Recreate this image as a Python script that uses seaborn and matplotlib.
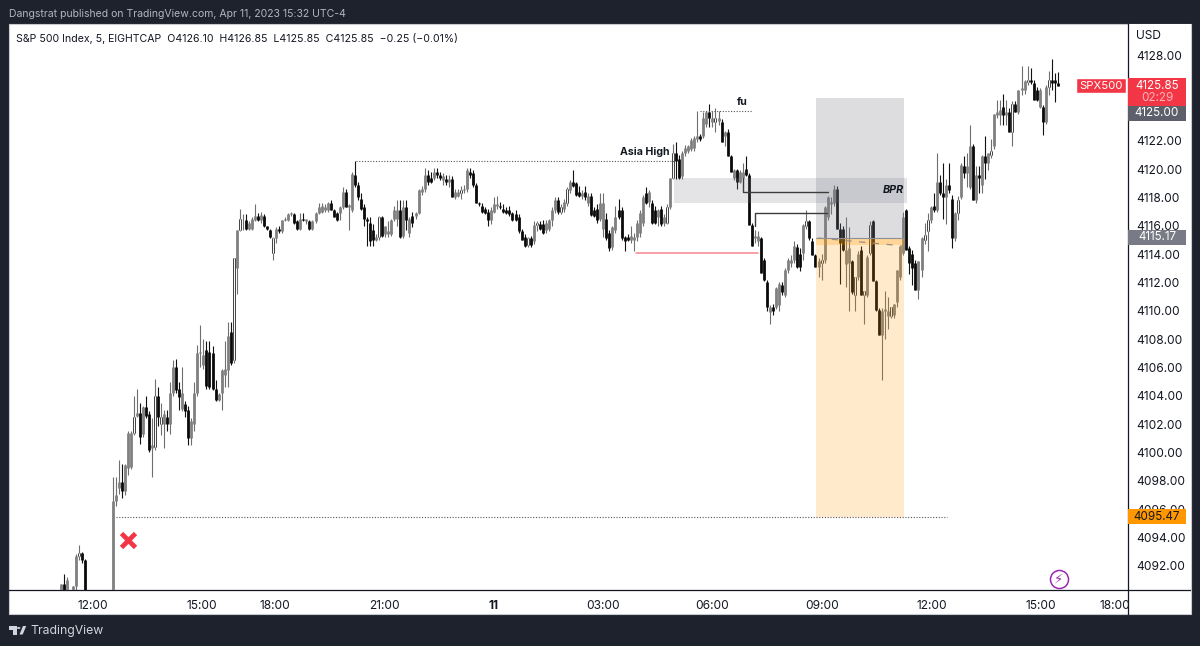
"""S&P 500 5-minute candles with trade annotations, TradingView look."""
import matplotlib.pyplot as plt
import pandas as pd
import seaborn as sns
from matplotlib.patches import Circle, Polygon, Rectangle

opens = [
    4089.8, 4090.7, 4090.2, 4089.2, 4090.0, 4090.6, 4092.7, 4092.9, 4092.4, 4089.5,
    4088.9, 4088.5, 4088.8, 4088.4, 4088.1, 4088.5, 4088.9, 4088.6, 4096.6, 4097.5,
    4097.9, 4097.3, 4098.9, 4099.0, 4101.4, 4102.6, 4102.8, 4101.3, 4103.2, 4102.7,
    4100.3, 4100.4, 4104.0, 4102.0, 4102.0, 4102.5, 4102.0, 4104.2, 4106.0, 4104.5,
    4103.1, 4103.4, 4103.0, 4101.0, 4102.0, 4104.2, 4107.0, 4106.2, 4107.2, 4107.1,
    4107.0, 4104.5, 4103.7, 4104.2, 4105.5, 4105.8, 4108.5, 4106.5, 4113.0, 4115.7,
    4116.4, 4116.4, 4115.75, 4115.8, 4116.4, 4116.7, 4116.4, 4116.7, 4115.95, 4115.7,
    4114.05, 4115.1, 4115.8, 4115.6, 4116.4, 4116.4, 4116.8, 4116.8, 4116.3, 4115.8,
    4116.5, 4116.3, 4116.3, 4115.8, 4116.3, 4116.9, 4117.0, 4117.1, 4117.1, 4117.6,
    4117.1, 4116.9, 4116.9, 4117.35, 4118.4, 4117.3, 4117.1, 4119.6, 4118.9, 4117.9,
    4117.3, 4116.5, 4116.2, 4115.7, 4115.0, 4115.2, 4116.6, 4115.4, 4115.4, 4115.4,
    4116.5, 4116.5, 4117.1, 4115.3, 4117.35, 4115.5, 4116.7, 4116.7, 4116.9, 4118.4,
    4118.6, 4119.6, 4119.4, 4119.4, 4119.8, 4119.6, 4119.2, 4119.3, 4119.1, 4119.3,
    4118.0, 4118.1, 4118.3, 4118.5, 4118.6, 4119.8, 4119.7, 4118.9, 4117.6, 4117.4,
    4117.2, 4117.0, 4116.4, 4117.0, 4117.4, 4117.4, 4117.2, 4117.1, 4117.1, 4116.9,
    4116.8, 4116.6, 4115.6, 4115.2, 4114.65, 4115.1, 4114.9, 4116.05, 4116.1, 4116.1,
    4115.7, 4115.75, 4116.4, 4117.1, 4117.8, 4117.0, 4117.2, 4117.6, 4118.5, 4119.1,
    4119.0, 4118.4, 4118.1, 4118.4, 4117.6, 4118.1, 4117.1, 4117.2, 4116.5, 4115.8,
    4116.5, 4115.5, 4114.5, 4115.7, 4117.1, 4117.1, 4115.2, 4115.2, 4115.0, 4115.0,
    4115.2, 4115.5, 4116.2, 4118.3, 4117.7, 4117.6, 4117.1, 4116.6, 4117.2, 4116.2,
    4116.2, 4117.35, 4119.35, 4121.1, 4120.7, 4119.5, 4121.1, 4121.3, 4121.4, 4121.5,
    4122.1, 4122.3, 4122.3, 4123.2, 4124.0, 4123.3, 4123.3, 4123.4, 4123.35, 4122.3,
    4122.6, 4120.9, 4119.4, 4119.9, 4119.1, 4119.4, 4120.0, 4119.6, 4116.05, 4115.1,
    4114.9, 4115.1, 4113.6, 4112.05, 4109.9, 4110.3, 4110.3, 4110.4, 4111.8, 4111.1,
    4112.9, 4113.4, 4113.6, 4114.5, 4114.0, 4114.05, 4116.0, 4116.3, 4114.9, 4113.9,
    4113.1, 4113.4, 4113.6, 4116.6, 4117.5, 4117.6, 4118.6, 4115.8, 4115.8, 4113.3,
    4113.4, 4113.5, 4111.1, 4112.4, 4114.3, 4111.1, 4111.1, 4114.05, 4116.3, 4112.1,
    4110.05, 4108.3, 4110.0, 4109.6, 4109.6, 4109.7, 4110.6, 4112.4, 4114.05, 4117.1,
    4114.4, 4114.0, 4113.4, 4111.5, 4112.9, 4115.0, 4115.6, 4116.4, 4117.4, 4117.1,
    4119.1, 4118.3, 4118.05, 4118.9, 4117.9, 4115.1, 4116.9, 4118.05, 4120.2, 4119.7,
    4118.75, 4121.6, 4117.8, 4119.6, 4118.9, 4120.9, 4120.4, 4121.0, 4121.6, 4123.8,
    4123.8, 4124.35, 4123.8, 4124.0, 4122.6, 4124.6, 4124.05, 4125.6, 4125.6, 4126.15,
    4126.3, 4126.1, 4125.6, 4124.4, 4124.35, 4123.35, 4125.8, 4126.3, 4126.3, 4126.1,
]
highs = [
    4090.7, 4091.4, 4091.2, 4089.9, 4090.6, 4092.8, 4093.5, 4093.0, 4092.5, 4089.9,
    4089.4, 4089.0, 4089.2, 4088.9, 4088.7, 4089.1, 4089.3, 4098.3, 4098.3, 4099.5,
    4099.2, 4099.2, 4101.5, 4101.5, 4104.0, 4104.5, 4103.5, 4103.3, 4104.0, 4102.9,
    4102.4, 4105.2, 4104.6, 4103.5, 4103.0, 4103.0, 4105.0, 4106.5, 4106.6, 4105.0,
    4106.0, 4103.6, 4103.3, 4102.4, 4105.0, 4107.6, 4109.0, 4108.0, 4107.9, 4107.9,
    4107.5, 4105.1, 4104.2, 4105.9, 4107.9, 4109.2, 4109.2, 4113.7, 4115.7, 4117.2,
    4116.8, 4116.8, 4116.3, 4116.6, 4117.5, 4116.9, 4117.0, 4116.8, 4116.0, 4115.8,
    4115.2, 4115.9, 4116.0, 4116.4, 4116.6, 4116.9, 4117.0, 4116.9, 4116.4, 4116.9,
    4116.9, 4116.5, 4116.4, 4116.4, 4117.0, 4117.6, 4117.6, 4117.5, 4117.7, 4117.8,
    4117.2, 4117.0, 4117.4, 4118.7, 4118.6, 4117.5, 4119.8, 4120.6, 4119.1, 4118.3,
    4117.5, 4116.6, 4116.6, 4116.1, 4115.4, 4116.7, 4116.7, 4116.0, 4116.3, 4116.5,
    4117.4, 4117.8, 4117.8, 4117.8, 4117.8, 4116.6, 4117.0, 4117.0, 4118.6, 4118.8,
    4120.1, 4119.9, 4119.8, 4120.1, 4120.1, 4119.8, 4119.7, 4119.6, 4119.6, 4119.5,
    4118.6, 4118.6, 4118.8, 4118.9, 4120.1, 4120.1, 4119.9, 4119.0, 4117.7, 4117.6,
    4117.3, 4117.2, 4117.3, 4118.0, 4118.1, 4117.7, 4117.5, 4117.3, 4117.4, 4117.0,
    4117.1, 4116.8, 4115.8, 4115.4, 4115.2, 4115.3, 4116.3, 4116.3, 4116.3, 4116.4,
    4116.4, 4116.5, 4117.3, 4118.0, 4118.0, 4117.5, 4117.9, 4118.7, 4119.2, 4119.9,
    4119.1, 4118.8, 4118.5, 4118.8, 4118.3, 4118.3, 4117.3, 4117.5, 4118.3, 4118.3,
    4116.9, 4115.7, 4116.0, 4117.4, 4117.9, 4117.3, 4115.3, 4115.4, 4116.0, 4115.5,
    4116.4, 4117.1, 4118.2, 4118.7, 4118.5, 4117.8, 4117.4, 4117.2, 4117.4, 4116.8,
    4117.5, 4119.4, 4121.8, 4121.9, 4121.0, 4121.3, 4121.7, 4121.7, 4122.2, 4122.3,
    4124.1, 4122.5, 4124.0, 4124.1, 4124.6, 4124.1, 4124.3, 4124.1, 4123.5, 4122.7,
    4122.8, 4121.0, 4120.0, 4120.0, 4119.9, 4120.4, 4120.9, 4119.7, 4116.2, 4115.7,
    4115.6, 4115.2, 4113.7, 4112.2, 4110.4, 4110.5, 4111.7, 4112.0, 4112.0, 4113.0,
    4113.7, 4113.9, 4114.9, 4114.7, 4114.4, 4116.1, 4117.1, 4116.4, 4115.1, 4114.0,
    4113.7, 4114.0, 4117.4, 4118.1, 4118.0, 4118.9, 4118.8, 4116.2, 4116.0, 4116.6,
    4115.9, 4113.6, 4112.4, 4114.2, 4114.6, 4111.4, 4113.9, 4116.3, 4116.4, 4112.2,
    4110.2, 4110.2, 4111.4, 4111.0, 4110.3, 4110.5, 4112.9, 4114.6, 4117.0, 4117.2,
    4114.6, 4114.3, 4113.6, 4113.5, 4115.2, 4116.2, 4116.9, 4117.4, 4118.3, 4121.1,
    4119.6, 4120.4, 4119.3, 4120.4, 4118.2, 4117.0, 4118.1, 4120.4, 4120.9, 4121.1,
    4123.1, 4121.8, 4120.2, 4120.2, 4121.0, 4122.3, 4121.1, 4122.1, 4123.9, 4124.9,
    4124.9, 4125.3, 4124.9, 4124.3, 4124.8, 4124.8, 4125.6, 4127.3, 4126.3, 4127.3,
    4127.1, 4126.3, 4125.8, 4125.7, 4124.5, 4125.9, 4126.9, 4127.8, 4126.8, 4126.85,
]
lows = [
    4089.5, 4089.6, 4089.7, 4088.9, 4089.7, 4090.0, 4092.4, 4092.2, 4089.5, 4088.6,
    4088.2, 4088.0, 4088.3, 4087.9, 4087.8, 4088.2, 4088.4, 4088.2, 4096.2, 4097.1,
    4096.8, 4097.0, 4098.4, 4098.8, 4101.2, 4102.5, 4100.6, 4101.1, 4102.4, 4100.0,
    4098.3, 4100.2, 4101.9, 4101.2, 4100.3, 4101.5, 4101.3, 4104.0, 4104.2, 4103.0,
    4102.9, 4102.5, 4100.5, 4100.5, 4101.5, 4104.0, 4106.0, 4105.9, 4104.5, 4104.5,
    4104.4, 4103.6, 4103.6, 4103.0, 4104.6, 4104.6, 4106.2, 4106.3, 4111.2, 4115.6,
    4115.7, 4115.7, 4115.7, 4115.7, 4116.3, 4116.3, 4116.2, 4115.9, 4115.7, 4115.1,
    4113.6, 4114.8, 4115.5, 4115.5, 4116.3, 4116.3, 4116.7, 4116.1, 4115.7, 4115.7,
    4116.3, 4116.1, 4115.7, 4115.7, 4116.2, 4116.8, 4116.9, 4117.0, 4117.0, 4117.1,
    4116.65, 4116.3, 4116.4, 4117.2, 4117.3, 4115.7, 4117.0, 4118.7, 4117.8, 4117.1,
    4116.0, 4114.6, 4114.6, 4114.6, 4114.9, 4115.0, 4115.2, 4115.2, 4115.2, 4115.3,
    4116.3, 4116.0, 4115.1, 4115.1, 4115.7, 4115.2, 4115.9, 4116.5, 4116.8, 4118.2,
    4118.4, 4118.9, 4119.0, 4119.2, 4119.4, 4119.2, 4118.9, 4118.9, 4118.7, 4118.0,
    4117.9, 4118.0, 4117.9, 4118.3, 4118.4, 4119.4, 4118.7, 4117.6, 4117.4, 4116.9,
    4116.8, 4116.0, 4116.1, 4116.9, 4117.2, 4117.2, 4116.9, 4116.8, 4116.7, 4116.3,
    4116.3, 4115.5, 4115.0, 4114.5, 4114.5, 4114.5, 4114.7, 4115.6, 4115.7, 4115.4,
    4115.5, 4115.6, 4116.0, 4116.9, 4116.8, 4116.8, 4117.0, 4117.4, 4118.3, 4118.7,
    4118.1, 4118.0, 4117.9, 4117.8, 4117.4, 4116.7, 4116.6, 4116.2, 4116.3, 4115.2,
    4115.0, 4114.2, 4114.3, 4115.5, 4116.5, 4115.0, 4114.2, 4114.9, 4114.8, 4114.2,
    4114.9, 4115.2, 4116.0, 4117.5, 4117.3, 4116.1, 4116.1, 4116.0, 4116.0, 4116.0,
    4116.1, 4117.2, 4119.3, 4119.3, 4119.3, 4119.3, 4120.9, 4121.1, 4121.3, 4121.3,
    4121.9, 4122.0, 4122.2, 4123.0, 4123.0, 4123.0, 4122.6, 4123.1, 4121.9, 4121.6,
    4120.9, 4119.8, 4119.2, 4118.6, 4119.0, 4119.2, 4119.5, 4116.05, 4114.6, 4114.8,
    4114.6, 4112.65, 4112.1, 4110.0, 4109.1, 4109.7, 4110.1, 4110.0, 4111.1, 4111.0,
    4112.7, 4113.1, 4113.4, 4113.0, 4112.8, 4113.6, 4115.8, 4115.0, 4113.9, 4113.1,
    4112.4, 4112.2, 4113.4, 4116.4, 4116.8, 4117.4, 4115.8, 4111.9, 4114.2, 4111.7,
    4110.0, 4111.2, 4110.0, 4112.2, 4111.1, 4109.1, 4111.0, 4113.9, 4112.1, 4110.0,
    4108.3, 4105.1, 4108.0, 4108.7, 4109.5, 4109.5, 4110.3, 4112.2, 4113.9, 4114.3,
    4112.6, 4111.8, 4111.5, 4110.8, 4112.4, 4114.7, 4114.2, 4116.2, 4117.0, 4117.0,
    4118.2, 4116.5, 4116.1, 4118.3, 4114.4, 4114.9, 4116.4, 4117.9, 4119.4, 4118.7,
    4118.6, 4117.8, 4117.6, 4118.3, 4118.3, 4119.3, 4119.9, 4120.8, 4121.4, 4123.6,
    4123.1, 4123.1, 4123.1, 4122.6, 4121.6, 4124.0, 4123.9, 4125.2, 4125.3, 4125.9,
    4126.0, 4124.9, 4124.8, 4124.3, 4122.4, 4123.2, 4125.2, 4125.6, 4124.7, 4125.85,
]
closes = [
    4090.7, 4090.0, 4091.0, 4089.6, 4090.6, 4092.7, 4092.9, 4092.4, 4089.5, 4088.9,
    4088.5, 4088.8, 4088.4, 4088.1, 4088.5, 4088.9, 4088.6, 4096.6, 4097.0, 4097.9,
    4097.3, 4099.1, 4101.4, 4101.4, 4102.5, 4102.8, 4101.1, 4103.2, 4102.6, 4100.2,
    4100.5, 4104.0, 4102.5, 4102.5, 4102.7, 4102.0, 4104.2, 4106.0, 4104.4, 4103.9,
    4104.2, 4102.9, 4101.0, 4102.2, 4104.2, 4107.0, 4107.1, 4106.9, 4104.7, 4104.6,
    4104.5, 4103.7, 4104.1, 4105.8, 4105.9, 4108.2, 4106.3, 4113.7, 4115.7, 4116.45,
    4116.4, 4115.75, 4116.2, 4116.45, 4116.7, 4116.4, 4116.75, 4116.0, 4115.75, 4115.2,
    4115.1, 4115.8, 4115.6, 4116.4, 4116.5, 4116.8, 4116.9, 4116.2, 4115.8, 4116.5,
    4116.4, 4116.45, 4115.8, 4116.3, 4116.9, 4117.35, 4117.4, 4117.3, 4117.6, 4117.1,
    4116.65, 4116.4, 4117.35, 4118.4, 4117.35, 4117.45, 4119.65, 4118.9, 4118.0, 4117.2,
    4116.5, 4116.3, 4114.9, 4115.0, 4115.2, 4116.6, 4115.3, 4116.0, 4115.6, 4116.4,
    4117.1, 4117.1, 4115.2, 4117.35, 4116.4, 4116.5, 4116.2, 4116.9, 4118.55, 4118.6,
    4119.6, 4119.1, 4119.1, 4119.8, 4119.6, 4119.4, 4119.5, 4119.1, 4119.3, 4118.05,
    4118.4, 4118.4, 4118.5, 4118.6, 4119.9, 4119.6, 4118.9, 4117.6, 4117.5, 4117.0,
    4116.9, 4116.4, 4117.1, 4117.5, 4117.5, 4117.3, 4117.0, 4116.9, 4116.8, 4116.4,
    4116.4, 4115.6, 4115.0, 4114.6, 4115.1, 4114.65, 4116.05, 4116.2, 4115.8, 4115.5,
    4116.2, 4116.4, 4117.1, 4117.8, 4117.0, 4117.3, 4117.7, 4118.6, 4119.1, 4118.8,
    4118.2, 4118.1, 4118.3, 4118.0, 4118.1, 4116.75, 4116.7, 4116.4, 4117.6, 4117.6,
    4115.1, 4114.4, 4115.9, 4116.6, 4116.6, 4115.1, 4114.9, 4115.0, 4115.3, 4115.2,
    4116.2, 4116.9, 4118.0, 4117.6, 4118.4, 4116.2, 4116.2, 4117.1, 4116.1, 4116.6,
    4117.35, 4119.35, 4121.1, 4120.6, 4119.4, 4121.1, 4121.5, 4121.6, 4122.05, 4122.2,
    4122.3, 4122.1, 4123.6, 4124.0, 4123.6, 4123.6, 4123.6, 4123.6, 4121.9, 4122.6,
    4120.9, 4119.8, 4119.9, 4119.1, 4119.8, 4119.8, 4119.6, 4116.05, 4114.6, 4115.3,
    4115.3, 4112.65, 4112.2, 4110.3, 4110.3, 4110.0, 4111.6, 4111.9, 4111.3, 4112.9,
    4113.6, 4113.6, 4114.6, 4113.1, 4113.1, 4116.05, 4116.3, 4115.1, 4113.9, 4113.1,
    4113.5, 4113.6, 4117.35, 4118.05, 4117.7, 4118.6, 4115.8, 4114.8, 4114.3, 4114.3,
    4114.4, 4111.3, 4112.4, 4114.0, 4111.1, 4111.4, 4113.8, 4116.05, 4112.1, 4110.05,
    4108.3, 4110.0, 4110.1, 4110.0, 4110.3, 4110.5, 4112.9, 4114.6, 4116.6, 4114.3,
    4113.35, 4113.0, 4111.5, 4113.5, 4115.1, 4115.35, 4116.4, 4117.35, 4117.1, 4119.1,
    4118.3, 4118.05, 4118.9, 4118.5, 4115.1, 4116.9, 4117.8, 4120.3, 4119.7, 4120.2,
    4121.6, 4117.8, 4119.6, 4119.4, 4120.9, 4120.4, 4121.1, 4121.3, 4123.9, 4124.05,
    4124.2, 4123.8, 4124.05, 4122.6, 4124.6, 4124.05, 4125.6, 4125.7, 4126.2, 4126.3,
    4126.15, 4124.9, 4124.9, 4125.6, 4123.35, 4125.8, 4126.3, 4126.1, 4126.1, 4125.85,
]
# bars whose body reads as white with a dark outline
hollow_bars = [6, 24, 31, 33, 57, 59, 70, 105, 132, 154, 157, 165, 167, 200, 202,
               216, 246, 251, 262, 265, 267, 274, 285, 286, 296, 307, 314, 319, 326]

# 4124 and 4126 sit fully behind the price tags, so they are left out
price_ticks = [4092, 4094, 4096, 4098, 4100, 4102, 4104, 4106, 4108, 4110,
               4112, 4114, 4116, 4118, 4120, 4122, 4128]
time_labels = ["12:00", "15:00", "18:00", "21:00", "11", "03:00",
               "06:00", "09:00", "12:00", "15:00", "18:00"]
time_bars = [10.6, 46.5, 70.6, 106.6, 142.6, 178.9, 214.9, 251.2, 287.5, 323.4, 347.9]

entry_price = 4115.17
target_price = 4095.47
stop_price = 4125.00
bpr_top, bpr_bottom = 4119.37, 4117.60
asia_high = 4120.60
fu_level = 4124.13
red_level = 4114.10
upper_level = 4118.40
lower_level = 4116.88

_BG = "#1e222d"
_TEXT = "#131722"
_UP = "#808080"
_RED = "#f23645"
_ORANGE = "#ff9800"
_FONT = "Inter"

W, H = 1200, 646


def to_price(y):
    return 4128 - (y - 55.7) / 14.17


def to_bar(x):
    return (x - 61) / 3.03


def box(left, top, right, bottom):
    return [left / W, 1 - bottom / H, (right - left) / W, (bottom - top) / H]


def fig_xy(x, y):
    return x / W, 1 - y / H


def price_tag(ax, top, bottom, color, lines):
    ax.add_patch(Rectangle((0, to_price(bottom)), 58, to_price(top) - to_price(bottom),
                           facecolor=color, edgecolor="none", zorder=5))
    for y, text, text_color in lines:
        ax.text(29, to_price(y), text, color=text_color, ha="center", va="center",
                fontsize=8.4, family=_FONT, zorder=6)


sns.set_theme(style="white")
plt.rcParams["font.family"] = [_FONT, "DejaVu Sans"]

fig = plt.figure(figsize=(12, 6.46), dpi=100, facecolor=_BG)
fig.patches.append(Rectangle(fig_xy(9, 614), 1182 / W, 590 / H, transform=fig.transFigure,
                             facecolor="white", edgecolor="#c8cad0", linewidth=0.8, zorder=-1))

ax = fig.add_axes(box(9, 24, 1128, 590))
ax.set_xlim(to_bar(9), to_bar(1128))
ax.set_ylim(to_price(590), to_price(24))
ax.patch.set_alpha(0)

bars = pd.DataFrame({"bar": range(len(opens)), "open": opens, "high": highs,
                     "low": lows, "close": closes})
bars["side"] = ["up" if c >= o else "down" for o, c in zip(opens, closes)]

wicks = bars.melt(id_vars=["bar", "side"], value_vars=["low", "high"], value_name="price")
bodies = bars.melt(id_vars=["bar", "side"], value_vars=["open", "close"], value_name="price")
hollow = bodies[bodies["bar"].isin(hollow_bars)]

line_opts = dict(x="bar", y="price", units="bar", estimator=None, sort=False,
                 legend=False, ax=ax, solid_capstyle="butt")
sns.lineplot(data=wicks, hue="side", palette={"up": "#6e6e6e", "down": "#111111"},
             linewidth=0.8, zorder=2, **line_opts)
sns.lineplot(data=bodies, hue="side", palette={"up": _UP, "down": "#0a0a0a"},
             linewidth=2.0, zorder=3, **line_opts)
sns.lineplot(data=hollow, color="#444444", linewidth=2.1, zorder=3.1, **line_opts)
sns.lineplot(data=hollow, color="white", linewidth=0.7, zorder=3.2, **line_opts)
ax.set_xlabel("")
ax.set_ylabel("")

# position tool and BPR zone
box_left, box_right = to_bar(816), to_bar(904)
ax.fill_between([box_left, box_right], entry_price, stop_price,
                color="#787b86", alpha=0.25, linewidth=0, zorder=4)
ax.fill_between([box_left, box_right], target_price, entry_price,
                color=_ORANGE, alpha=0.2, linewidth=0, zorder=4)
ax.fill_between([box_left, box_right], to_price(245), entry_price,
                color=_ORANGE, alpha=0.25, linewidth=0, zorder=4)
ax.fill_between([to_bar(674), to_bar(907)], bpr_bottom, bpr_top,
                color="#787b86", alpha=0.2, linewidth=0, zorder=4)
ax.plot([box_left, box_right], [entry_price, entry_price], color="#8d8f98", lw=0.8, zorder=5)
ax.plot([to_bar(818), to_bar(904)], [to_price(238), to_price(246)], color="#9a8f80",
        lw=0.9, ls=(0, (5, 6)), zorder=5)

dot_color = "#555555"
ax.plot([to_bar(356), to_bar(675)], [asia_high, asia_high], color=dot_color, lw=0.8, ls=(0, (1, 1.5)), zorder=4)
ax.plot([to_bar(700), to_bar(752)], [fu_level, fu_level], color=dot_color, lw=0.8, ls=(0, (1, 1.5)), zorder=4)
ax.plot([to_bar(116), to_bar(947)], [target_price, target_price], color=dot_color, lw=0.8, ls=(0, (1, 1.5)), zorder=4)
ax.plot([to_bar(636), to_bar(758)], [red_level, red_level], color="#f7858b", lw=1.1, zorder=4)
ax.plot([to_bar(742.5), to_bar(742.5), to_bar(828)], [bpr_top, upper_level, upper_level],
        color="#3c3c3c", lw=1.0, zorder=5)
ax.plot([to_bar(754.5), to_bar(754.5), to_bar(827)], [to_price(226), lower_level, lower_level],
        color="#3c3c3c", lw=1.0, zorder=5)

ax.text(to_bar(669), to_price(152), "Asia High", ha="right", va="center",
        fontsize=7.6, fontweight="bold", color=_TEXT, zorder=6)
ax.text(to_bar(742), to_price(102), "fu", ha="center", va="center",
        fontsize=7.6, fontweight="bold", color=_TEXT, zorder=6)
ax.text(to_bar(893), to_price(190), "BPR", ha="center", va="center", fontsize=7.8,
        fontweight="bold", fontstyle="italic", color=_TEXT, zorder=6)

ax.plot(to_bar(128), to_price(540), marker="x", ms=10, mew=3.4, color=_RED, zorder=6)
ax.plot(to_bar(1059), to_price(579), marker="o", ms=13, mew=1.1, mec="#9c27b0", mfc="white", zorder=6)
ax.text(to_bar(1059), to_price(579), "\u26a1", color="#9c27b0", ha="center", va="center",
        fontsize=9.5, fontweight="bold", family="DejaVu Sans", zorder=7)

ax.set_yticks([])
ax.set_xticks(time_bars)
ax.set_xticklabels(time_labels, fontsize=8.6, color=_TEXT)
ax.get_xticklabels()[4].set_fontweight("bold")
ax.tick_params(axis="x", length=0, pad=7)
for side in ["top", "left", "right"]:
    ax.spines[side].set_visible(False)
ax.spines["bottom"].set_color(_TEXT)
ax.spines["bottom"].set_linewidth(0.9)

# SPX500 tag sits inside the pane, next to the price scale
ax.add_patch(Rectangle((to_bar(1076), to_price(93)), to_bar(1126) - to_bar(1076),
                       to_price(78) - to_price(93), facecolor=_RED, zorder=6))
ax.text(to_bar(1101), to_price(86), "SPX500", color="white", ha="center", va="center",
        fontsize=8.2, zorder=7)

scale = fig.add_axes(box(1128, 24, 1191, 614), zorder=3)
scale.set_facecolor("white")
scale.set_xlim(0, 63)
scale.set_ylim(to_price(614), to_price(24))
scale.set_xticks([])
scale.yaxis.tick_right()
scale.set_yticks(price_ticks)
scale.set_yticklabels([f"{p:.2f}" for p in price_ticks], fontsize=8.6, color=_TEXT)
scale.tick_params(axis="y", length=0, pad=-39.6)
for label in scale.get_yticklabels():
    label.set_ha("left")
for side in ["top", "right", "bottom"]:
    scale.spines[side].set_visible(False)
scale.spines["left"].set_color(_TEXT)
scale.spines["left"].set_linewidth(0.9)
scale.plot([0, 63], [to_price(590), to_price(590)], color=_TEXT, lw=0.9)
scale.text(8, to_price(36), "USD", color=_TEXT, fontsize=8.6, va="center")

price_tag(scale, 78, 105.5, _RED, [(86, "4125.85", "white"), (98, "02:29", "#ffb3b9")])
price_tag(scale, 106, 120.5, "#5d606b", [(113, f"{stop_price:.2f}", "white")])
price_tag(scale, 230, 245, "#787b86", [(237.5, f"{entry_price:.2f}", "white")])
price_tag(scale, 509, 524, _ORANGE, [(516.5, f"{target_price:.2f}", _TEXT)])

fig.text(*fig_xy(9, 14), "Dangstrat published on TradingView.com, Apr 11, 2023 15:32 UTC-4",
         color="#b2b5be", fontsize=7.55, va="center")
fig.text(*fig_xy(16, 38),
         "S&P 500 Index, 5, EIGHTCAP  O4126.10  H4126.85  L4125.85  C4125.85  \u22120.25 (\u22120.01%)",
         color=_TEXT, fontsize=7.6, va="center")

# logo and wordmark
logo_color = "#d1d4dc"
for pts in [[(9.3, 626), (16.7, 626), (16.7, 634.5), (12.7, 634.5), (12.7, 630), (9.3, 630)],
            [(19.5, 634.5), (23, 626), (26.2, 626), (22.7, 634.5)]]:
    fig.patches.append(Polygon([fig_xy(*p) for p in pts], transform=fig.transFigure,
                               facecolor=logo_color, edgecolor="none"))
fig.patches.append(Circle(fig_xy(18.7, 628), 1.8 / W, transform=fig.transFigure,
                          facecolor=logo_color, edgecolor="none"))
fig.text(*fig_xy(30, 631), "TradingView", color=logo_color, fontsize=8.8, va="center")

fig.savefig("out.png", dpi=100, facecolor=fig.get_facecolor())
